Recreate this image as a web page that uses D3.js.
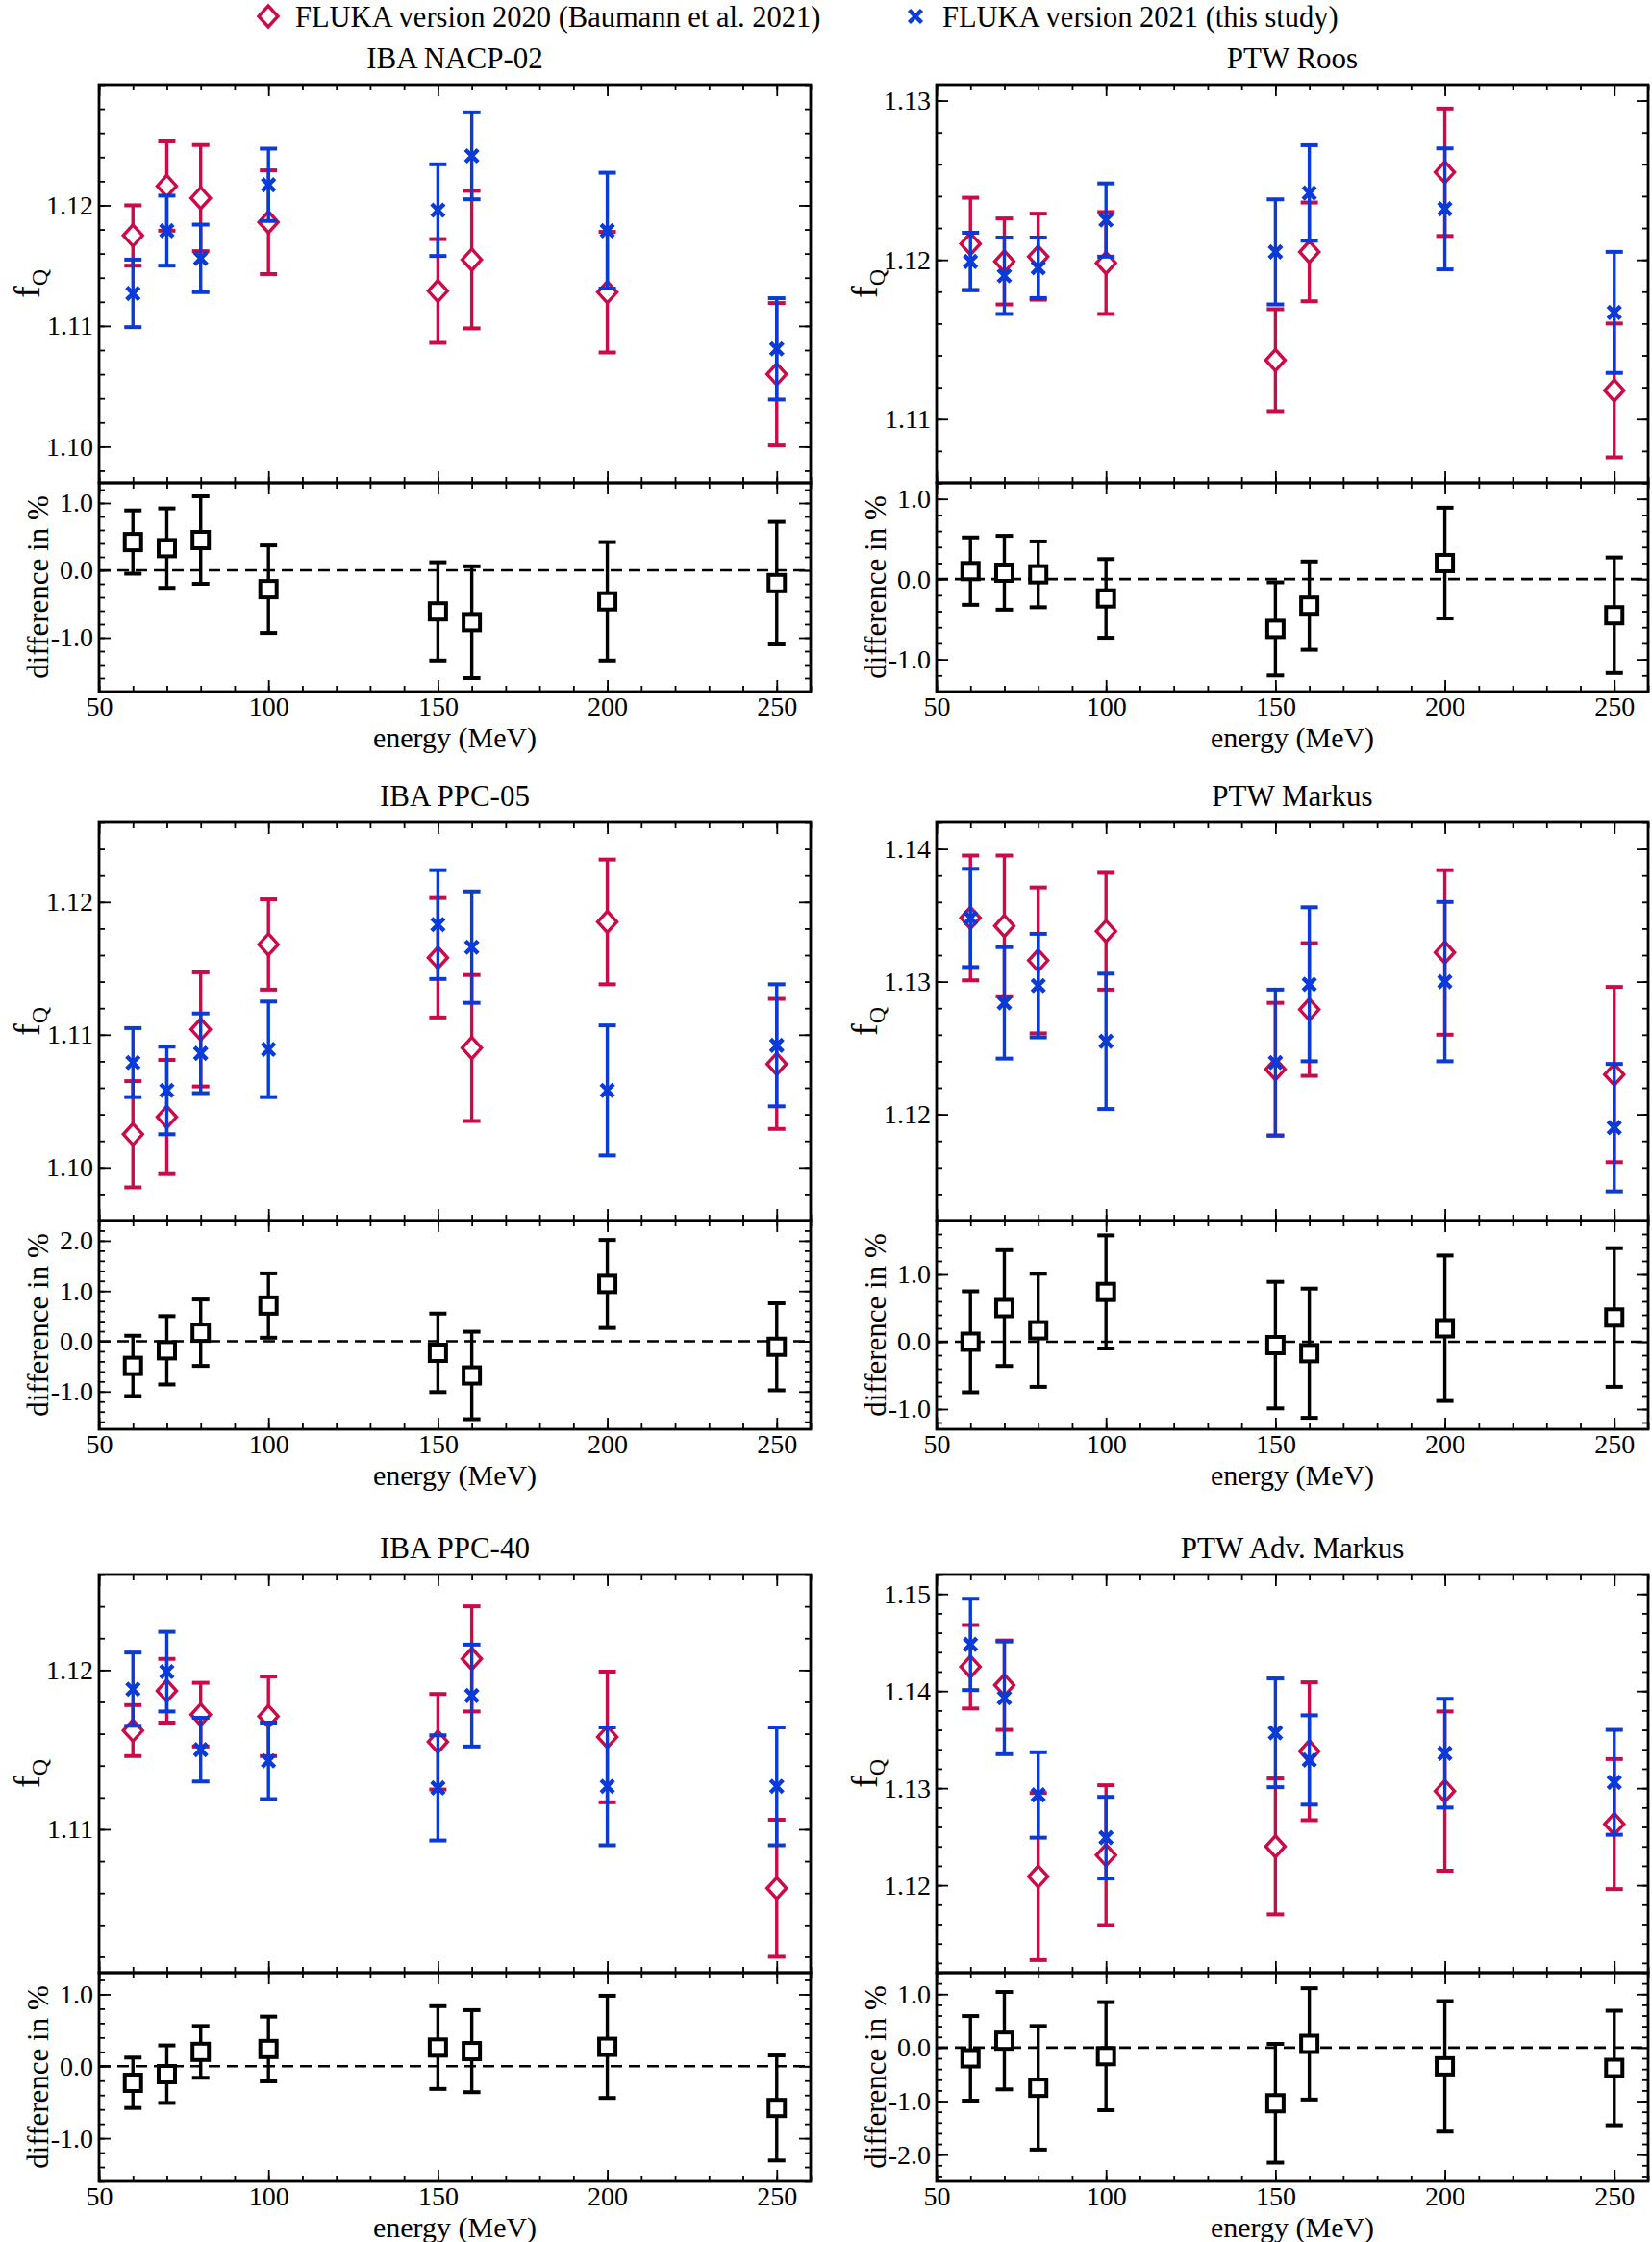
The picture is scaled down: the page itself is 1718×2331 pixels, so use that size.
<!DOCTYPE html>
<html>
<head>
<meta charset="utf-8">
<script src="https://cdn.jsdelivr.net/npm/d3@7"></script>
<style>
body { margin: 0; background: #fff; }
svg { display: block; font-family: "Liberation Serif", "Times New Roman", serif; }
</style>
</head>
<body>
<svg id="chart" width="1718" height="2331"></svg>
<script>
const energies = [60, 70, 80, 100, 150, 160, 200, 250];
const xTicks = [50, 100, 150, 200, 250];

// IBA NACP-02
const nacp02_2020 = [1.1175, 1.1216, 1.1206, 1.1186, 1.1129, 1.1155, 1.1128, 1.1060];
const nacp02_2020_err = [0.0025, 0.0037, 0.0044, 0.0043, 0.0043, 0.0057, 0.0050, 0.0059];
const nacp02_2021 = [1.1127, 1.1179, 1.1156, 1.1217, 1.1196, 1.1241, 1.1179, 1.1081];
const nacp02_2021_err = [0.0028, 0.0029, 0.0028, 0.0030, 0.0038, 0.0036, 0.0048, 0.0042];
const nacp02_diff = [0.42, 0.33, 0.45, -0.28, -0.61, -0.77, -0.46, -0.19];
const nacp02_diff_err = [0.47, 0.59, 0.65, 0.65, 0.73, 0.83, 0.88, 0.91];

// PTW Roos
const roos_2020 = [1.1210, 1.1199, 1.1202, 1.1198, 1.1137, 1.1205, 1.1255, 1.1118];
const roos_2020_err = [0.0029, 0.0027, 0.0027, 0.0032, 0.0032, 0.0031, 0.0040, 0.0042];
const roos_2021 = [1.1199, 1.1190, 1.1195, 1.1225, 1.1205, 1.1242, 1.1232, 1.1167];
const roos_2021_err = [0.0018, 0.0024, 0.0019, 0.0023, 0.0033, 0.0030, 0.0038, 0.0038];
const roos_diff = [0.10, 0.08, 0.06, -0.24, -0.62, -0.33, 0.20, -0.45];
const roos_diff_err = [0.42, 0.46, 0.41, 0.49, 0.58, 0.55, 0.69, 0.72];

// IBA PPC-05
const ppc05_2020 = [1.1025, 1.1038, 1.1104, 1.1168, 1.1158, 1.1090, 1.1185, 1.1078];
const ppc05_2020_err = [0.0040, 0.0043, 0.0043, 0.0034, 0.0045, 0.0055, 0.0047, 0.0049];
const ppc05_2021 = [1.1079, 1.1058, 1.1086, 1.1089, 1.1183, 1.1166, 1.1058, 1.1092];
const ppc05_2021_err = [0.0026, 0.0033, 0.0030, 0.0036, 0.0041, 0.0042, 0.0049, 0.0046];
const ppc05_diff = [-0.49, -0.18, 0.17, 0.71, -0.23, -0.68, 1.14, -0.11];
const ppc05_diff_err = [0.60, 0.68, 0.66, 0.64, 0.78, 0.87, 0.875, 0.865];

// PTW Markus
const markus_2020 = [1.1348, 1.1342, 1.1316, 1.1338, 1.1234, 1.1279, 1.1322, 1.1230];
const markus_2020_err = [0.0047, 0.0053, 0.0055, 0.0044, 0.0050, 0.0050, 0.0062, 0.0066];
const markus_2021 = [1.1348, 1.1284, 1.1297, 1.1255, 1.1239, 1.1298, 1.1300, 1.1190];
const markus_2021_err = [0.0037, 0.0042, 0.0039, 0.0051, 0.0055, 0.0058, 0.0060, 0.0048];
const markus_diff = [0.0, 0.50, 0.17, 0.74, -0.05, -0.17, 0.20, 0.36];
const markus_diff_err = [0.75, 0.86, 0.84, 0.84, 0.94, 0.96, 1.08, 1.03];

// IBA PPC-40
const ppc40_2020 = [1.1162, 1.1187, 1.1172, 1.1171, 1.1155, 1.1207, 1.1158, 1.1063];
const ppc40_2020_err = [0.0016, 0.0020, 0.0020, 0.0025, 0.0030, 0.0033, 0.0041, 0.0043];
const ppc40_2021 = [1.1188, 1.1199, 1.1150, 1.1143, 1.1126, 1.1184, 1.1127, 1.1127];
const ppc40_2021_err = [0.0023, 0.0025, 0.0020, 0.0024, 0.0033, 0.0032, 0.0037, 0.0037];
const ppc40_diff = [-0.23, -0.11, 0.20, 0.24, 0.26, 0.21, 0.27, -0.58];
const ppc40_diff_err = [0.35, 0.40, 0.36, 0.45, 0.575, 0.57, 0.71, 0.73];

// PTW Adv. Markus
const advmarkus_2020 = [1.1425, 1.1406, 1.1209, 1.1231, 1.1240, 1.1338, 1.1297, 1.1263];
const advmarkus_2020_err = [0.0043, 0.0046, 0.0086, 0.0072, 0.0070, 0.0071, 0.0082, 0.0067];
const advmarkus_2021 = [1.1448, 1.1393, 1.1293, 1.1249, 1.1357, 1.1329, 1.1336, 1.1306];
const advmarkus_2021_err = [0.0047, 0.0058, 0.0044, 0.0042, 0.0056, 0.0046, 0.0056, 0.0054];
const advmarkus_diff = [-0.20, 0.13, -0.75, -0.16, -1.04, 0.07, -0.35, -0.38];
const advmarkus_diff_err = [0.79, 0.91, 1.155, 1.01, 1.11, 1.04, 1.22, 1.07];

const legendLabels = ["FLUKA version 2020 (Baumann et al. 2021)", "FLUKA version 2021 (this study)"];

const panels = [
  {title: "IBA NACP-02", col: 0, row: 0, a: nacp02_2020, ae: nacp02_2020_err, b: nacp02_2021, be: nacp02_2021_err, d: nacp02_diff, de: nacp02_diff_err,
   fDom: [1.097, 1.130], fTicks: [1.10, 1.11, 1.12], dDom: [-1.8, 1.3], dTicks: [-1, 0, 1]},
  {title: "PTW Roos", col: 1, row: 0, a: roos_2020, ae: roos_2020_err, b: roos_2021, be: roos_2021_err, d: roos_diff, de: roos_diff_err,
   fDom: [1.106, 1.131], fTicks: [1.11, 1.12, 1.13], dDom: [-1.4, 1.2], dTicks: [-1, 0, 1]},
  {title: "IBA PPC-05", col: 0, row: 1, a: ppc05_2020, ae: ppc05_2020_err, b: ppc05_2021, be: ppc05_2021_err, d: ppc05_diff, de: ppc05_diff_err,
   fDom: [1.096, 1.126], fTicks: [1.10, 1.11, 1.12], dDom: [-1.75, 2.4], dTicks: [-1, 0, 1, 2]},
  {title: "PTW Markus", col: 1, row: 1, a: markus_2020, ae: markus_2020_err, b: markus_2021, be: markus_2021_err, d: markus_diff, de: markus_diff_err,
   fDom: [1.112, 1.142], fTicks: [1.12, 1.13, 1.14], dDom: [-1.3, 1.8], dTicks: [-1, 0, 1]},
  {title: "IBA PPC-40", col: 0, row: 2, a: ppc40_2020, ae: ppc40_2020_err, b: ppc40_2021, be: ppc40_2021_err, d: ppc40_diff, de: ppc40_diff_err,
   fDom: [1.101, 1.126], fTicks: [1.11, 1.12], dDom: [-1.6, 1.3], dTicks: [-1, 0, 1]},
  {title: "PTW Adv. Markus", col: 1, row: 2, a: advmarkus_2020, ae: advmarkus_2020_err, b: advmarkus_2021, be: advmarkus_2021_err, d: advmarkus_diff, de: advmarkus_diff_err,
   fDom: [1.111, 1.152], fTicks: [1.12, 1.13, 1.14, 1.15], dDom: [-2.5, 1.4], dTicks: [-2, -1, 0, 1]}
];

const RED = "#cc0a47", BLUE = "#0a3ad8";
const colX = [103, 974], plotW = 740;
const rowY = [88, 855, 1637];
const mainH = 414, diffH = 217;

const svg = d3.select("#chart");

function stepRange(dom, step) {
  let i0 = Math.ceil(dom[0] / step - 1e-6), i1 = Math.floor(dom[1] / step + 1e-6);
  return d3.range(i0, i1 + 1).map(i => i * step);
}

function frameAxes(g, x, y, h, yTicks, yMinor, yFmt, withXLabels) {
  // minor ticks
  g.append("g").attr("class", "ax").attr("transform", `translate(0,${h})`)
    .call(d3.axisBottom(x).tickValues(d3.range(50, 261, 10)).tickSize(-6).tickFormat(""));
  g.append("g").attr("class", "ax")
    .call(d3.axisTop(x).tickValues(d3.range(50, 261, 10)).tickSize(-6).tickFormat(""));
  g.append("g").attr("class", "ax")
    .call(d3.axisLeft(y).tickValues(yMinor).tickSize(-6).tickFormat(""));
  g.append("g").attr("class", "ax").attr("transform", `translate(${plotW},0)`)
    .call(d3.axisRight(y).tickValues(yMinor).tickSize(-6).tickFormat(""));
  // major ticks
  let bx = d3.axisBottom(x).tickValues(xTicks).tickSize(-12).tickPadding(5);
  if (!withXLabels) bx.tickFormat("");
  g.append("g").attr("class", "ax lab").attr("transform", `translate(0,${h})`).call(bx);
  g.append("g").attr("class", "ax")
    .call(d3.axisTop(x).tickValues(xTicks).tickSize(-12).tickFormat(""));
  g.append("g").attr("class", "ax lab")
    .call(d3.axisLeft(y).tickValues(yTicks).tickSize(-12).tickPadding(6).tickFormat(yFmt));
  g.append("g").attr("class", "ax").attr("transform", `translate(${plotW},0)`)
    .call(d3.axisRight(y).tickValues(yTicks).tickSize(-12).tickFormat(""));
  g.selectAll(".ax path.domain").remove();
  g.selectAll(".ax line").attr("stroke", "#000").attr("stroke-width", 1.8);
  g.selectAll(".ax text").attr("font-family", "Liberation Serif, Times New Roman, serif")
    .attr("font-size", 28).attr("fill", "#000");
  g.append("rect").attr("width", plotW).attr("height", h)
    .attr("fill", "none").attr("stroke", "#000").attr("stroke-width", 2.8);
}

function errorBars(g, x, y, vals, errs, color, width) {
  const cap = 9;
  const eb = g.append("g").attr("stroke", color).attr("stroke-width", width);
  energies.forEach((e, i) => {
    const px = x(e), top = y(vals[i] + errs[i]), bot = y(vals[i] - errs[i]);
    eb.append("line").attr("x1", px).attr("x2", px).attr("y1", top).attr("y2", bot);
    eb.append("line").attr("x1", px - cap).attr("x2", px + cap).attr("y1", top).attr("y2", top).attr("stroke-width", 4);
    eb.append("line").attr("x1", px - cap).attr("x2", px + cap).attr("y1", bot).attr("y2", bot).attr("stroke-width", 4);
  });
}

function drawPanel(p) {
  const x0 = colX[p.col], y0 = rowY[p.row];
  const g = svg.append("g").attr("transform", `translate(${x0},${y0})`);
  const x = d3.scaleLinear().domain([50, 260]).range([0, plotW]);
  const yM = d3.scaleLinear().domain(p.fDom).range([mainH, 0]);
  const yD = d3.scaleLinear().domain(p.dDom).range([diffH, 0]);

  // title
  g.append("text").attr("x", plotW / 2).attr("y", -17).attr("text-anchor", "middle")
    .attr("font-size", 31).text(p.title);

  // main plot
  const gm = g.append("g");
  errorBars(gm, x, yM, p.a, p.ae, RED, 3.4);
  gm.selectAll("path.dia").data(energies).join("path").attr("class", "dia")
    .attr("transform", (e, i) => `translate(${x(e)},${yM(p.a[i])})`)
    .attr("d", "M0,-11L10,0L0,11L-10,0Z")
    .attr("fill", "#fff").attr("stroke", RED).attr("stroke-width", 3.4);
  errorBars(gm, x, yM, p.b, p.be, BLUE, 3.4);
  gm.selectAll("path.crs").data(energies).join("path").attr("class", "crs")
    .attr("transform", (e, i) => `translate(${x(e)},${yM(p.b[i])})`)
    .attr("d", "M-6.5,-6.5L6.5,6.5M-6.5,6.5L6.5,-6.5")
    .attr("fill", "none").attr("stroke", BLUE).attr("stroke-width", 4.5);
  frameAxes(gm, x, yM, mainH, p.fTicks, stepRange(p.fDom, 0.002), d => d.toFixed(2), false);

  // f_Q label
  const fl = g.append("text").attr("transform", `translate(-62,${mainH / 2}) rotate(-90)`)
    .attr("text-anchor", "middle").attr("font-size", 38);
  fl.append("tspan").text("f");
  fl.append("tspan").attr("font-size", 24).attr("dy", 8).text("Q");

  // difference plot
  const gd = g.append("g").attr("transform", `translate(0,${mainH})`);
  gd.append("line").attr("x1", 0).attr("x2", plotW).attr("y1", yD(0)).attr("y2", yD(0))
    .attr("stroke", "#000").attr("stroke-width", 2.6).attr("stroke-dasharray", "12,7");
  errorBars(gd, x, yD, p.d, p.de, "#000", 3.4);
  gd.selectAll("rect.sq").data(energies).join("rect").attr("class", "sq")
    .attr("x", e => x(e) - 8.5).attr("y", (e, i) => yD(p.d[i]) - 8.5)
    .attr("width", 17).attr("height", 17)
    .attr("fill", "#fff").attr("stroke", "#000").attr("stroke-width", 4);
  frameAxes(gd, x, yD, diffH, p.dTicks, stepRange(p.dDom, 0.2), d => d.toFixed(1), true);

  gd.append("text").attr("transform", `translate(-53,${diffH / 2}) rotate(-90)`)
    .attr("text-anchor", "middle").attr("font-size", 31).text("difference in %");
  gd.append("text").attr("x", plotW / 2).attr("y", diffH + 58).attr("text-anchor", "middle")
    .attr("font-size", 30).text("energy (MeV)");
}

panels.forEach(drawPanel);

// legend
const lg = svg.append("g");
lg.append("path").attr("transform", "translate(279,17)").attr("d", "M0,-11L10,0L0,11L-10,0Z")
  .attr("fill", "#fff").attr("stroke", RED).attr("stroke-width", 3.4);
lg.append("text").attr("x", 307).attr("y", 28).attr("font-size", 30.5).text(legendLabels[0]);
lg.append("path").attr("transform", "translate(952,17)").attr("d", "M-6.5,-6.5L6.5,6.5M-6.5,6.5L6.5,-6.5")
  .attr("stroke", BLUE).attr("stroke-width", 4.5);
lg.append("text").attr("x", 980).attr("y", 28).attr("font-size", 30.5).text(legendLabels[1]);
</script>
</body>
</html>
